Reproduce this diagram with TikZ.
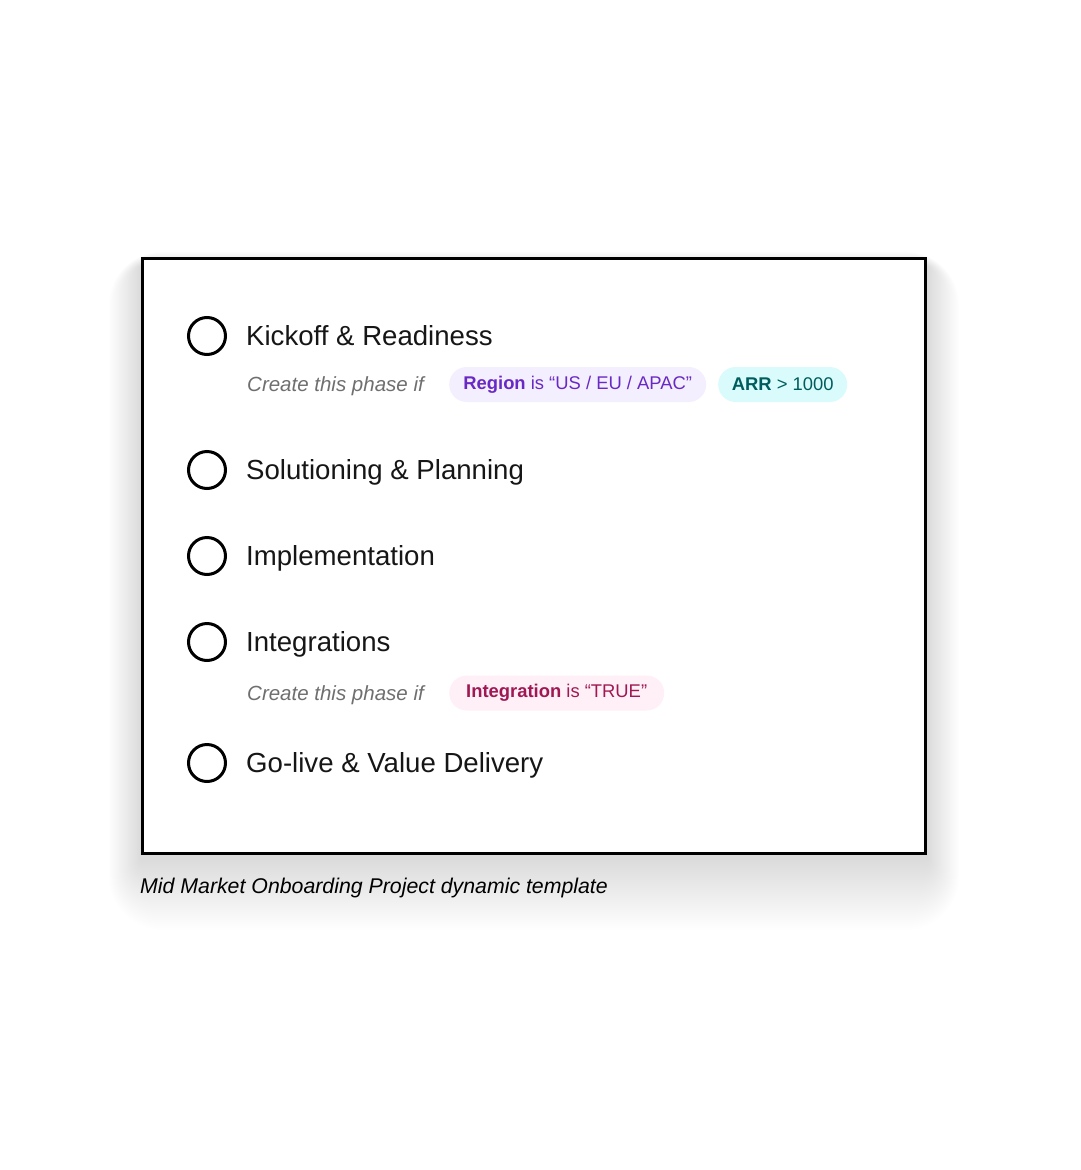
\documentclass[tikz,border=0pt]{standalone}
\usepackage{fontspec}
\setmainfont{Liberation Sans}
\definecolor{ink}{HTML}{161616}
\definecolor{muted}{HTML}{6F6F6F}
\definecolor{regionbg}{HTML}{F4EFFF}
\definecolor{regionfg}{HTML}{6929C4}
\definecolor{arrbg}{HTML}{D9FBFB}
\definecolor{arrfg}{HTML}{005D5D}
\definecolor{integbg}{HTML}{FFF0F7}
\definecolor{integfg}{HTML}{9F1853}
\tikzset{
  card/.style={draw=black, line width=3pt, fill=white, rectangle, inner sep=0pt},
  phasecircle/.style={draw=black, line width=3pt, circle, minimum size=37pt, inner sep=0pt},
  phasetitle/.style={anchor=base west, inner sep=0pt, text=ink, font=\fontsize{27.6}{32}\selectfont},
  cond/.style={anchor=base west, inner sep=0pt, text=muted, font=\fontsize{20.5}{24}\selectfont\itshape},
  pill/.style={anchor=west, rectangle, rounded corners=17.5pt, minimum height=35pt, inner sep=0pt, font=\fontsize{18.4}{22}\selectfont},
  caption/.style={anchor=base west, inner sep=0pt, text=black, font=\fontsize{21.3}{24}\selectfont\itshape}
}
\begin{document}
\begin{tikzpicture}[x=1pt,y=-1pt]
\useasboundingbox[fill=white] (0,0) rectangle (1080,1170);
% soft shadow
\foreach \i in {1,...,36}{
  \fill[black, opacity=0.0045, rounded corners=\i*1.5pt]
    (141-\i*0.9, 266-\i*0.4) rectangle (927+\i*0.9, 858+\i*2);
}
\node[card, minimum width=783pt, minimum height=595pt] (card) at (534,556) {};
% phases
\node[phasecircle] (c1) at (207,336) {};
\node[phasetitle] (t1) at (246,345) {Kickoff \& Readiness};
\node[cond] (s1) at (247,391) {Create this phase if};
\node[pill, fill=regionbg, text=regionfg, minimum width=257pt] (p1) at (449,384.5) {\textbf{Region} is “US / EU / APAC”};
\node[pill, fill=arrbg, text=arrfg, minimum width=129pt] (p2) at (718,384.5) {\textbf{ARR} > 1000};
\node[phasecircle] (c2) at (207,470) {};
\node[phasetitle] (t2) at (246,479) {Solutioning \& Planning};
\node[phasecircle] (c3) at (207,556) {};
\node[phasetitle] (t3) at (246,565) {Implementation};
\node[phasecircle] (c4) at (207,642) {};
\node[phasetitle] (t4) at (246,651) {Integrations};
\node[cond] (s4) at (247,700) {Create this phase if};
\node[pill, fill=integbg, text=integfg, minimum width=215pt] (p3) at (449,693) {\textbf{Integration} is “TRUE”};
\node[phasecircle] (c5) at (207,763) {};
\node[phasetitle] (t5) at (246,772) {Go-live \& Value Delivery};
\node[caption] (cap) at (140,893) {Mid Market Onboarding Project dynamic template};
\end{tikzpicture}
\end{document}
